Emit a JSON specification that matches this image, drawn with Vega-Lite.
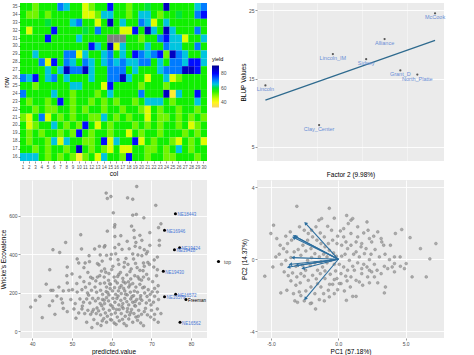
{
"$schema":"https://vega.github.io/schema/vega-lite/v6.json",
"background":"white",
"padding":{"left":0,"top":3,"right":0,"bottom":0},
"bounds":"flush",
"columns":2,
"spacing":{"row":19,"column":50},
"config":{
 "font":"Liberation Sans",
 "view":{"fill":"#EBEBEB","stroke":null},
 "axis":{"domain":false,"gridColor":"#FFFFFF","gridWidth":0.9,"tickColor":"#333333","tickSize":2,"tickWidth":0.5,"labelFontSize":5,"labelColor":"#4D4D4D","labelPadding":1,"titleFontSize":6.5,"titleFontWeight":"normal","titleColor":"#000000","titlePadding":2,"labelOverlap":false,"labelFlush":false},
 "legend":{"labelFontSize":5,"titleFontSize":5.5,"titleFontWeight":"normal","labelColor":"#4D4D4D","titleColor":"#000000"}
},
"resolve":{"scale":{"color":"independent"},"legend":{"color":"independent"}},
"datasets":{
 "heat":[
{"row":35,"col":1,"yield":57},{"row":35,"col":2,"yield":57},{"row":35,"col":3,"yield":51},{"row":35,"col":4,"yield":57},{"row":35,"col":5,"yield":57},{"row":35,"col":6,"yield":57},{"row":35,"col":7,"yield":71},{"row":35,"col":8,"yield":65},{"row":35,"col":9,"yield":57},{"row":35,"col":10,"yield":57},{"row":35,"col":11,"yield":44},{"row":35,"col":12,"yield":51},{"row":35,"col":13,"yield":57},{"row":35,"col":14,"yield":57},{"row":35,"col":15,"yield":79},{"row":35,"col":16,"yield":57},{"row":35,"col":17,"yield":57},{"row":35,"col":18,"yield":51},{"row":35,"col":19,"yield":57},{"row":35,"col":20,"yield":57},{"row":35,"col":21,"yield":60},{"row":35,"col":22,"yield":57},{"row":35,"col":23,"yield":57},{"row":35,"col":24,"yield":86},{"row":35,"col":25,"yield":57},{"row":35,"col":26,"yield":57},{"row":35,"col":27,"yield":57},{"row":35,"col":28,"yield":57},{"row":35,"col":29,"yield":65},{"row":35,"col":30,"yield":71},
{"row":34,"col":1,"yield":57},{"row":34,"col":2,"yield":51},{"row":34,"col":3,"yield":51},{"row":34,"col":4,"yield":57},{"row":34,"col":5,"yield":51},{"row":34,"col":6,"yield":57},{"row":34,"col":7,"yield":57},{"row":34,"col":8,"yield":57},{"row":34,"col":9,"yield":57},{"row":34,"col":10,"yield":57},{"row":34,"col":11,"yield":44},{"row":34,"col":12,"yield":44},{"row":34,"col":13,"yield":51},{"row":34,"col":14,"yield":65},{"row":34,"col":15,"yield":65},{"row":34,"col":16,"yield":57},{"row":34,"col":17,"yield":57},{"row":34,"col":18,"yield":51},{"row":34,"col":19,"yield":57},{"row":34,"col":20,"yield":65},{"row":34,"col":21,"yield":65},{"row":34,"col":22,"yield":57},{"row":34,"col":23,"yield":51},{"row":34,"col":24,"yield":57},{"row":34,"col":25,"yield":57},{"row":34,"col":26,"yield":60},{"row":34,"col":27,"yield":57},{"row":34,"col":28,"yield":57},{"row":34,"col":29,"yield":71},{"row":34,"col":30,"yield":79},
{"row":33,"col":1,"yield":57},{"row":33,"col":2,"yield":57},{"row":33,"col":3,"yield":57},{"row":33,"col":4,"yield":57},{"row":33,"col":5,"yield":60},{"row":33,"col":6,"yield":57},{"row":33,"col":7,"yield":57},{"row":33,"col":8,"yield":57},{"row":33,"col":9,"yield":65},{"row":33,"col":10,"yield":71},{"row":33,"col":11,"yield":57},{"row":33,"col":12,"yield":57},{"row":33,"col":13,"yield":44},{"row":33,"col":14,"yield":57},{"row":33,"col":15,"yield":86},{"row":33,"col":16,"yield":57},{"row":33,"col":17,"yield":65},{"row":33,"col":18,"yield":57},{"row":33,"col":19,"yield":57},{"row":33,"col":20,"yield":71},{"row":33,"col":21,"yield":65},{"row":33,"col":22,"yield":44},{"row":33,"col":23,"yield":57},{"row":33,"col":24,"yield":65},{"row":33,"col":25,"yield":57},{"row":33,"col":26,"yield":57},{"row":33,"col":27,"yield":57},{"row":33,"col":28,"yield":57},{"row":33,"col":29,"yield":57},{"row":33,"col":30,"yield":57},
{"row":32,"col":1,"yield":57},{"row":32,"col":2,"yield":44},{"row":32,"col":3,"yield":57},{"row":32,"col":4,"yield":57},{"row":32,"col":5,"yield":57},{"row":32,"col":6,"yield":79},{"row":32,"col":7,"yield":57},{"row":32,"col":8,"yield":57},{"row":32,"col":9,"yield":57},{"row":32,"col":10,"yield":57},{"row":32,"col":11,"yield":60},{"row":32,"col":12,"yield":57},{"row":32,"col":13,"yield":71},{"row":32,"col":14,"yield":57},{"row":32,"col":15,"yield":57},{"row":32,"col":16,"yield":57},{"row":32,"col":17,"yield":44},{"row":32,"col":18,"yield":44},{"row":32,"col":19,"yield":79},{"row":32,"col":20,"yield":57},{"row":32,"col":21,"yield":86},{"row":32,"col":22,"yield":65},{"row":32,"col":23,"yield":57},{"row":32,"col":24,"yield":86},{"row":32,"col":25,"yield":65},{"row":32,"col":26,"yield":57},{"row":32,"col":27,"yield":57},{"row":32,"col":28,"yield":57},{"row":32,"col":29,"yield":71},{"row":32,"col":30,"yield":57},
{"row":31,"col":1,"yield":57},{"row":31,"col":2,"yield":57},{"row":31,"col":3,"yield":57},{"row":31,"col":4,"yield":57},{"row":31,"col":5,"yield":79},{"row":31,"col":6,"yield":57},{"row":31,"col":7,"yield":57},{"row":31,"col":8,"yield":57},{"row":31,"col":9,"yield":57},{"row":31,"col":10,"yield":65},{"row":31,"col":11,"yield":57},{"row":31,"col":12,"yield":57},{"row":31,"col":13,"yield":57},{"row":31,"col":14,"yield":57},{"row":31,"col":15,"yield":null},{"row":31,"col":16,"yield":null},{"row":31,"col":17,"yield":null},{"row":31,"col":18,"yield":57},{"row":31,"col":19,"yield":57},{"row":31,"col":20,"yield":51},{"row":31,"col":21,"yield":57},{"row":31,"col":22,"yield":57},{"row":31,"col":23,"yield":71},{"row":31,"col":24,"yield":79},{"row":31,"col":25,"yield":65},{"row":31,"col":26,"yield":65},{"row":31,"col":27,"yield":44},{"row":31,"col":28,"yield":57},{"row":31,"col":29,"yield":57},{"row":31,"col":30,"yield":65},
{"row":30,"col":1,"yield":57},{"row":30,"col":2,"yield":57},{"row":30,"col":3,"yield":57},{"row":30,"col":4,"yield":57},{"row":30,"col":5,"yield":57},{"row":30,"col":6,"yield":57},{"row":30,"col":7,"yield":57},{"row":30,"col":8,"yield":57},{"row":30,"col":9,"yield":57},{"row":30,"col":10,"yield":57},{"row":30,"col":11,"yield":57},{"row":30,"col":12,"yield":79},{"row":30,"col":13,"yield":65},{"row":30,"col":14,"yield":57},{"row":30,"col":15,"yield":86},{"row":30,"col":16,"yield":44},{"row":30,"col":17,"yield":65},{"row":30,"col":18,"yield":57},{"row":30,"col":19,"yield":57},{"row":30,"col":20,"yield":57},{"row":30,"col":21,"yield":65},{"row":30,"col":22,"yield":57},{"row":30,"col":23,"yield":57},{"row":30,"col":24,"yield":71},{"row":30,"col":25,"yield":65},{"row":30,"col":26,"yield":65},{"row":30,"col":27,"yield":57},{"row":30,"col":28,"yield":57},{"row":30,"col":29,"yield":71},{"row":30,"col":30,"yield":57},
{"row":29,"col":1,"yield":57},{"row":29,"col":2,"yield":57},{"row":29,"col":3,"yield":65},{"row":29,"col":4,"yield":57},{"row":29,"col":5,"yield":57},{"row":29,"col":6,"yield":57},{"row":29,"col":7,"yield":57},{"row":29,"col":8,"yield":71},{"row":29,"col":9,"yield":71},{"row":29,"col":10,"yield":44},{"row":29,"col":11,"yield":65},{"row":29,"col":12,"yield":57},{"row":29,"col":13,"yield":57},{"row":29,"col":14,"yield":65},{"row":29,"col":15,"yield":71},{"row":29,"col":16,"yield":57},{"row":29,"col":17,"yield":65},{"row":29,"col":18,"yield":57},{"row":29,"col":19,"yield":79},{"row":29,"col":20,"yield":71},{"row":29,"col":21,"yield":65},{"row":29,"col":22,"yield":71},{"row":29,"col":23,"yield":79},{"row":29,"col":24,"yield":51},{"row":29,"col":25,"yield":86},{"row":29,"col":26,"yield":71},{"row":29,"col":27,"yield":65},{"row":29,"col":28,"yield":57},{"row":29,"col":29,"yield":57},{"row":29,"col":30,"yield":65},
{"row":28,"col":1,"yield":57},{"row":28,"col":2,"yield":57},{"row":28,"col":3,"yield":57},{"row":28,"col":4,"yield":71},{"row":28,"col":5,"yield":44},{"row":28,"col":6,"yield":79},{"row":28,"col":7,"yield":57},{"row":28,"col":8,"yield":71},{"row":28,"col":9,"yield":65},{"row":28,"col":10,"yield":57},{"row":28,"col":11,"yield":71},{"row":28,"col":12,"yield":65},{"row":28,"col":13,"yield":57},{"row":28,"col":14,"yield":65},{"row":28,"col":15,"yield":71},{"row":28,"col":16,"yield":65},{"row":28,"col":17,"yield":71},{"row":28,"col":18,"yield":65},{"row":28,"col":19,"yield":65},{"row":28,"col":20,"yield":71},{"row":28,"col":21,"yield":71},{"row":28,"col":22,"yield":57},{"row":28,"col":23,"yield":65},{"row":28,"col":24,"yield":57},{"row":28,"col":25,"yield":71},{"row":28,"col":26,"yield":71},{"row":28,"col":27,"yield":65},{"row":28,"col":28,"yield":79},{"row":28,"col":29,"yield":79},{"row":28,"col":30,"yield":65},
{"row":27,"col":1,"yield":57},{"row":27,"col":2,"yield":57},{"row":27,"col":3,"yield":57},{"row":27,"col":4,"yield":57},{"row":27,"col":5,"yield":65},{"row":27,"col":6,"yield":57},{"row":27,"col":7,"yield":65},{"row":27,"col":8,"yield":86},{"row":27,"col":9,"yield":71},{"row":27,"col":10,"yield":71},{"row":27,"col":11,"yield":86},{"row":27,"col":12,"yield":65},{"row":27,"col":13,"yield":57},{"row":27,"col":14,"yield":57},{"row":27,"col":15,"yield":71},{"row":27,"col":16,"yield":71},{"row":27,"col":17,"yield":71},{"row":27,"col":18,"yield":57},{"row":27,"col":19,"yield":65},{"row":27,"col":20,"yield":57},{"row":27,"col":21,"yield":57},{"row":27,"col":22,"yield":57},{"row":27,"col":23,"yield":65},{"row":27,"col":24,"yield":71},{"row":27,"col":25,"yield":71},{"row":27,"col":26,"yield":71},{"row":27,"col":27,"yield":86},{"row":27,"col":28,"yield":86},{"row":27,"col":29,"yield":79},{"row":27,"col":30,"yield":57},
{"row":26,"col":1,"yield":71},{"row":26,"col":2,"yield":65},{"row":26,"col":3,"yield":79},{"row":26,"col":4,"yield":57},{"row":26,"col":5,"yield":65},{"row":26,"col":6,"yield":71},{"row":26,"col":7,"yield":57},{"row":26,"col":8,"yield":65},{"row":26,"col":9,"yield":57},{"row":26,"col":10,"yield":57},{"row":26,"col":11,"yield":57},{"row":26,"col":12,"yield":65},{"row":26,"col":13,"yield":57},{"row":26,"col":14,"yield":57},{"row":26,"col":15,"yield":71},{"row":26,"col":16,"yield":71},{"row":26,"col":17,"yield":86},{"row":26,"col":18,"yield":65},{"row":26,"col":19,"yield":57},{"row":26,"col":20,"yield":57},{"row":26,"col":21,"yield":44},{"row":26,"col":22,"yield":57},{"row":26,"col":23,"yield":57},{"row":26,"col":24,"yield":65},{"row":26,"col":25,"yield":44},{"row":26,"col":26,"yield":51},{"row":26,"col":27,"yield":57},{"row":26,"col":28,"yield":57},{"row":26,"col":29,"yield":57},{"row":26,"col":30,"yield":57},
{"row":25,"col":1,"yield":57},{"row":25,"col":2,"yield":57},{"row":25,"col":3,"yield":51},{"row":25,"col":4,"yield":57},{"row":25,"col":5,"yield":57},{"row":25,"col":6,"yield":57},{"row":25,"col":7,"yield":57},{"row":25,"col":8,"yield":57},{"row":25,"col":9,"yield":65},{"row":25,"col":10,"yield":65},{"row":25,"col":11,"yield":57},{"row":25,"col":12,"yield":57},{"row":25,"col":13,"yield":57},{"row":25,"col":14,"yield":44},{"row":25,"col":15,"yield":79},{"row":25,"col":16,"yield":57},{"row":25,"col":17,"yield":57},{"row":25,"col":18,"yield":57},{"row":25,"col":19,"yield":57},{"row":25,"col":20,"yield":51},{"row":25,"col":21,"yield":57},{"row":25,"col":22,"yield":57},{"row":25,"col":23,"yield":57},{"row":25,"col":24,"yield":51},{"row":25,"col":25,"yield":57},{"row":25,"col":26,"yield":57},{"row":25,"col":27,"yield":57},{"row":25,"col":28,"yield":57},{"row":25,"col":29,"yield":57},{"row":25,"col":30,"yield":57},
{"row":24,"col":1,"yield":71},{"row":24,"col":2,"yield":57},{"row":24,"col":3,"yield":57},{"row":24,"col":4,"yield":57},{"row":24,"col":5,"yield":57},{"row":24,"col":6,"yield":65},{"row":24,"col":7,"yield":57},{"row":24,"col":8,"yield":57},{"row":24,"col":9,"yield":51},{"row":24,"col":10,"yield":57},{"row":24,"col":11,"yield":57},{"row":24,"col":12,"yield":57},{"row":24,"col":13,"yield":51},{"row":24,"col":14,"yield":57},{"row":24,"col":15,"yield":65},{"row":24,"col":16,"yield":57},{"row":24,"col":17,"yield":57},{"row":24,"col":18,"yield":57},{"row":24,"col":19,"yield":57},{"row":24,"col":20,"yield":71},{"row":24,"col":21,"yield":57},{"row":24,"col":22,"yield":57},{"row":24,"col":23,"yield":57},{"row":24,"col":24,"yield":86},{"row":24,"col":25,"yield":38},{"row":24,"col":26,"yield":65},{"row":24,"col":27,"yield":57},{"row":24,"col":28,"yield":57},{"row":24,"col":29,"yield":79},{"row":24,"col":30,"yield":57},
{"row":23,"col":1,"yield":57},{"row":23,"col":2,"yield":51},{"row":23,"col":3,"yield":57},{"row":23,"col":4,"yield":57},{"row":23,"col":5,"yield":51},{"row":23,"col":6,"yield":57},{"row":23,"col":7,"yield":79},{"row":23,"col":8,"yield":57},{"row":23,"col":9,"yield":51},{"row":23,"col":10,"yield":57},{"row":23,"col":11,"yield":57},{"row":23,"col":12,"yield":51},{"row":23,"col":13,"yield":57},{"row":23,"col":14,"yield":51},{"row":23,"col":15,"yield":57},{"row":23,"col":16,"yield":51},{"row":23,"col":17,"yield":57},{"row":23,"col":18,"yield":57},{"row":23,"col":19,"yield":51},{"row":23,"col":20,"yield":57},{"row":23,"col":21,"yield":65},{"row":23,"col":22,"yield":65},{"row":23,"col":23,"yield":65},{"row":23,"col":24,"yield":57},{"row":23,"col":25,"yield":51},{"row":23,"col":26,"yield":57},{"row":23,"col":27,"yield":57},{"row":23,"col":28,"yield":57},{"row":23,"col":29,"yield":65},{"row":23,"col":30,"yield":57},
{"row":22,"col":1,"yield":57},{"row":22,"col":2,"yield":57},{"row":22,"col":3,"yield":51},{"row":22,"col":4,"yield":57},{"row":22,"col":5,"yield":51},{"row":22,"col":6,"yield":51},{"row":22,"col":7,"yield":57},{"row":22,"col":8,"yield":57},{"row":22,"col":9,"yield":51},{"row":22,"col":10,"yield":57},{"row":22,"col":11,"yield":51},{"row":22,"col":12,"yield":57},{"row":22,"col":13,"yield":57},{"row":22,"col":14,"yield":51},{"row":22,"col":15,"yield":57},{"row":22,"col":16,"yield":57},{"row":22,"col":17,"yield":51},{"row":22,"col":18,"yield":57},{"row":22,"col":19,"yield":57},{"row":22,"col":20,"yield":51},{"row":22,"col":21,"yield":44},{"row":22,"col":22,"yield":57},{"row":22,"col":23,"yield":51},{"row":22,"col":24,"yield":57},{"row":22,"col":25,"yield":57},{"row":22,"col":26,"yield":51},{"row":22,"col":27,"yield":57},{"row":22,"col":28,"yield":57},{"row":22,"col":29,"yield":51},{"row":22,"col":30,"yield":57},
{"row":21,"col":1,"yield":51},{"row":21,"col":2,"yield":44},{"row":21,"col":3,"yield":57},{"row":21,"col":4,"yield":71},{"row":21,"col":5,"yield":44},{"row":21,"col":6,"yield":57},{"row":21,"col":7,"yield":51},{"row":21,"col":8,"yield":57},{"row":21,"col":9,"yield":51},{"row":21,"col":10,"yield":57},{"row":21,"col":11,"yield":57},{"row":21,"col":12,"yield":51},{"row":21,"col":13,"yield":51},{"row":21,"col":14,"yield":65},{"row":21,"col":15,"yield":57},{"row":21,"col":16,"yield":51},{"row":21,"col":17,"yield":57},{"row":21,"col":18,"yield":51},{"row":21,"col":19,"yield":57},{"row":21,"col":20,"yield":57},{"row":21,"col":21,"yield":44},{"row":21,"col":22,"yield":57},{"row":21,"col":23,"yield":51},{"row":21,"col":24,"yield":51},{"row":21,"col":25,"yield":57},{"row":21,"col":26,"yield":51},{"row":21,"col":27,"yield":57},{"row":21,"col":28,"yield":51},{"row":21,"col":29,"yield":57},{"row":21,"col":30,"yield":51},
{"row":20,"col":1,"yield":57},{"row":20,"col":2,"yield":44},{"row":20,"col":3,"yield":51},{"row":20,"col":4,"yield":57},{"row":20,"col":5,"yield":57},{"row":20,"col":6,"yield":65},{"row":20,"col":7,"yield":57},{"row":20,"col":8,"yield":51},{"row":20,"col":9,"yield":57},{"row":20,"col":10,"yield":51},{"row":20,"col":11,"yield":79},{"row":20,"col":12,"yield":57},{"row":20,"col":13,"yield":44},{"row":20,"col":14,"yield":57},{"row":20,"col":15,"yield":51},{"row":20,"col":16,"yield":57},{"row":20,"col":17,"yield":57},{"row":20,"col":18,"yield":57},{"row":20,"col":19,"yield":51},{"row":20,"col":20,"yield":57},{"row":20,"col":21,"yield":51},{"row":20,"col":22,"yield":57},{"row":20,"col":23,"yield":51},{"row":20,"col":24,"yield":57},{"row":20,"col":25,"yield":57},{"row":20,"col":26,"yield":51},{"row":20,"col":27,"yield":57},{"row":20,"col":28,"yield":44},{"row":20,"col":29,"yield":51},{"row":20,"col":30,"yield":57},
{"row":19,"col":1,"yield":57},{"row":19,"col":2,"yield":51},{"row":19,"col":3,"yield":57},{"row":19,"col":4,"yield":51},{"row":19,"col":5,"yield":57},{"row":19,"col":6,"yield":57},{"row":19,"col":7,"yield":51},{"row":19,"col":8,"yield":57},{"row":19,"col":9,"yield":51},{"row":19,"col":10,"yield":79},{"row":19,"col":11,"yield":57},{"row":19,"col":12,"yield":51},{"row":19,"col":13,"yield":57},{"row":19,"col":14,"yield":57},{"row":19,"col":15,"yield":51},{"row":19,"col":16,"yield":57},{"row":19,"col":17,"yield":57},{"row":19,"col":18,"yield":44},{"row":19,"col":19,"yield":57},{"row":19,"col":20,"yield":51},{"row":19,"col":21,"yield":57},{"row":19,"col":22,"yield":57},{"row":19,"col":23,"yield":51},{"row":19,"col":24,"yield":57},{"row":19,"col":25,"yield":57},{"row":19,"col":26,"yield":57},{"row":19,"col":27,"yield":51},{"row":19,"col":28,"yield":57},{"row":19,"col":29,"yield":51},{"row":19,"col":30,"yield":57},
{"row":18,"col":1,"yield":57},{"row":18,"col":2,"yield":51},{"row":18,"col":3,"yield":57},{"row":18,"col":4,"yield":57},{"row":18,"col":5,"yield":51},{"row":18,"col":6,"yield":65},{"row":18,"col":7,"yield":44},{"row":18,"col":8,"yield":65},{"row":18,"col":9,"yield":57},{"row":18,"col":10,"yield":57},{"row":18,"col":11,"yield":51},{"row":18,"col":12,"yield":51},{"row":18,"col":13,"yield":57},{"row":18,"col":14,"yield":79},{"row":18,"col":15,"yield":44},{"row":18,"col":16,"yield":65},{"row":18,"col":17,"yield":57},{"row":18,"col":18,"yield":57},{"row":18,"col":19,"yield":79},{"row":18,"col":20,"yield":44},{"row":18,"col":21,"yield":57},{"row":18,"col":22,"yield":51},{"row":18,"col":23,"yield":57},{"row":18,"col":24,"yield":57},{"row":18,"col":25,"yield":51},{"row":18,"col":26,"yield":44},{"row":18,"col":27,"yield":57},{"row":18,"col":28,"yield":51},{"row":18,"col":29,"yield":57},{"row":18,"col":30,"yield":44},
{"row":17,"col":1,"yield":57},{"row":17,"col":2,"yield":57},{"row":17,"col":3,"yield":51},{"row":17,"col":4,"yield":57},{"row":17,"col":5,"yield":51},{"row":17,"col":6,"yield":57},{"row":17,"col":7,"yield":57},{"row":17,"col":8,"yield":51},{"row":17,"col":9,"yield":57},{"row":17,"col":10,"yield":86},{"row":17,"col":11,"yield":57},{"row":17,"col":12,"yield":51},{"row":17,"col":13,"yield":57},{"row":17,"col":14,"yield":51},{"row":17,"col":15,"yield":44},{"row":17,"col":16,"yield":57},{"row":17,"col":17,"yield":44},{"row":17,"col":18,"yield":44},{"row":17,"col":19,"yield":57},{"row":17,"col":20,"yield":57},{"row":17,"col":21,"yield":51},{"row":17,"col":22,"yield":51},{"row":17,"col":23,"yield":57},{"row":17,"col":24,"yield":51},{"row":17,"col":25,"yield":57},{"row":17,"col":26,"yield":65},{"row":17,"col":27,"yield":57},{"row":17,"col":28,"yield":51},{"row":17,"col":29,"yield":57},{"row":17,"col":30,"yield":57},
{"row":16,"col":1,"yield":65},{"row":16,"col":2,"yield":65},{"row":16,"col":3,"yield":65},{"row":16,"col":4,"yield":57},{"row":16,"col":5,"yield":51},{"row":16,"col":6,"yield":57},{"row":16,"col":7,"yield":51},{"row":16,"col":8,"yield":57},{"row":16,"col":9,"yield":51},{"row":16,"col":10,"yield":38},{"row":16,"col":11,"yield":51},{"row":16,"col":12,"yield":57},{"row":16,"col":13,"yield":44},{"row":16,"col":14,"yield":65},{"row":16,"col":15,"yield":57},{"row":16,"col":16,"yield":57},{"row":16,"col":17,"yield":51},{"row":16,"col":18,"yield":79},{"row":16,"col":19,"yield":57},{"row":16,"col":20,"yield":57},{"row":16,"col":21,"yield":51},{"row":16,"col":22,"yield":57},{"row":16,"col":23,"yield":57},{"row":16,"col":24,"yield":51},{"row":16,"col":25,"yield":51},{"row":16,"col":26,"yield":57},{"row":16,"col":27,"yield":57},{"row":16,"col":28,"yield":57},{"row":16,"col":29,"yield":51},{"row":16,"col":30,"yield":57}
 ],
 "locs":[
{"factor2":-6.66,"blup":14.0,"location":"Lincoln"},
{"factor2":-2.89,"blup":18.6,"location":"Lincoln_IM"},
{"factor2":-1.03,"blup":17.85,"location":"Sidney"},
{"factor2":0.0,"blup":20.8,"location":"Alliance"},
{"factor2":2.82,"blup":24.56,"location":"McCook"},
{"factor2":0.88,"blup":16.2,"location":"Grant_D"},
{"factor2":1.83,"blup":15.6,"location":"North_Platte"},
{"factor2":-3.66,"blup":8.2,"location":"Clay_Center"}
 ],
 "fit":[{"factor2":-6.66,"blup":11.85},{"factor2":2.82,"blup":20.6}],
 "eco":[
{"predicted":66.3,"ecovalence":753},{"predicted":58.6,"ecovalence":719},{"predicted":58.9,"ecovalence":691},{"predicted":59.8,"ecovalence":701},{"predicted":64.0,"ecovalence":694},{"predicted":65.3,"ecovalence":687},{"predicted":71.1,"ecovalence":655},{"predicted":60.4,"ecovalence":616},{"predicted":65.3,"ecovalence":604},{"predicted":66.2,"ecovalence":608},{"predicted":68.1,"ecovalence":590},{"predicted":72.4,"ecovalence":559},{"predicted":60.8,"ecovalence":554},{"predicted":60.7,"ecovalence":542},{"predicted":65.0,"ecovalence":547},{"predicted":65.6,"ecovalence":525},{"predicted":71.8,"ecovalence":539},{"predicted":58.9,"ecovalence":521},{"predicted":62.3,"ecovalence":497},{"predicted":60.8,"ecovalence":493},{"predicted":52.2,"ecovalence":502},{"predicted":67.1,"ecovalence":499},{"predicted":69.6,"ecovalence":513},{"predicted":65.7,"ecovalence":487},{"predicted":48.4,"ecovalence":462},{"predicted":66.1,"ecovalence":462},{"predicted":67.6,"ecovalence":473},{"predicted":63.9,"ecovalence":468},{"predicted":69.6,"ecovalence":447},{"predicted":72.0,"ecovalence":447},{"predicted":72.0,"ecovalence":473},{"predicted":58.3,"ecovalence":445},{"predicted":56.9,"ecovalence":442},{"predicted":58.1,"ecovalence":438},{"predicted":61.8,"ecovalence":452},{"predicted":60.8,"ecovalence":435},{"predicted":62.6,"ecovalence":426},{"predicted":64.4,"ecovalence":429},{"predicted":65.9,"ecovalence":442},{"predicted":67.1,"ecovalence":435},{"predicted":68.2,"ecovalence":424},{"predicted":69.0,"ecovalence":414},{"predicted":45.2,"ecovalence":424},{"predicted":46.9,"ecovalence":410},{"predicted":52.4,"ecovalence":428},{"predicted":55.7,"ecovalence":428},{"predicted":54.3,"ecovalence":393},{"predicted":57.1,"ecovalence":397},{"predicted":58.7,"ecovalence":395},{"predicted":59.9,"ecovalence":400},{"predicted":61.0,"ecovalence":403},{"predicted":65.3,"ecovalence":402},{"predicted":66.6,"ecovalence":397},{"predicted":67.6,"ecovalence":393},{"predicted":68.7,"ecovalence":403},{"predicted":71.5,"ecovalence":386},{"predicted":70.7,"ecovalence":371},{"predicted":69.1,"ecovalence":358},{"predicted":68.0,"ecovalence":355},{"predicted":65.5,"ecovalence":376},{"predicted":63.6,"ecovalence":379},{"predicted":61.6,"ecovalence":372},{"predicted":59.7,"ecovalence":376},{"predicted":57.6,"ecovalence":365},{"predicted":54.4,"ecovalence":362},{"predicted":51.7,"ecovalence":355},{"predicted":51.3,"ecovalence":376},{"predicted":44.4,"ecovalence":320},{"predicted":48.8,"ecovalence":334},{"predicted":53.0,"ecovalence":331},{"predicted":56.4,"ecovalence":352},{"predicted":57.4,"ecovalence":313},{"predicted":58.2,"ecovalence":324},{"predicted":59.3,"ecovalence":300},{"predicted":60.3,"ecovalence":338},{"predicted":61.8,"ecovalence":348},{"predicted":63.1,"ecovalence":334},{"predicted":64.1,"ecovalence":348},{"predicted":64.9,"ecovalence":324},{"predicted":66.4,"ecovalence":331},{"predicted":67.1,"ecovalence":317},{"predicted":68.2,"ecovalence":338},{"predicted":69.5,"ecovalence":348},{"predicted":70.6,"ecovalence":334},{"predicted":71.5,"ecovalence":320},{"predicted":68.8,"ecovalence":296},{"predicted":48.7,"ecovalence":289},{"predicted":52.0,"ecovalence":282},{"predicted":54.0,"ecovalence":306},{"predicted":55.2,"ecovalence":275},{"predicted":56.4,"ecovalence":282},{"predicted":58.1,"ecovalence":282},{"predicted":59.2,"ecovalence":265},{"predicted":60.6,"ecovalence":282},{"predicted":61.8,"ecovalence":296},{"predicted":62.8,"ecovalence":275},{"predicted":63.8,"ecovalence":293},{"predicted":64.8,"ecovalence":272},{"predicted":65.8,"ecovalence":289},{"predicted":66.9,"ecovalence":272},{"predicted":68.0,"ecovalence":282},{"predicted":69.3,"ecovalence":272},{"predicted":70.3,"ecovalence":258},{"predicted":71.3,"ecovalence":289},{"predicted":71.7,"ecovalence":237},{"predicted":48.8,"ecovalence":251},{"predicted":51.2,"ecovalence":248},{"predicted":53.0,"ecovalence":258},{"predicted":54.4,"ecovalence":248},{"predicted":55.8,"ecovalence":230},{"predicted":57.1,"ecovalence":248},{"predicted":58.2,"ecovalence":251},{"predicted":58.7,"ecovalence":230},{"predicted":59.7,"ecovalence":244},{"predicted":60.7,"ecovalence":227},{"predicted":61.4,"ecovalence":251},{"predicted":62.4,"ecovalence":237},{"predicted":63.4,"ecovalence":251},{"predicted":64.3,"ecovalence":230},{"predicted":65.3,"ecovalence":248},{"predicted":66.1,"ecovalence":230},{"predicted":67.1,"ecovalence":244},{"predicted":68.2,"ecovalence":230},{"predicted":69.2,"ecovalence":216},{"predicted":70.8,"ecovalence":223},{"predicted":46.7,"ecovalence":230},{"predicted":44.7,"ecovalence":213},{"predicted":45.2,"ecovalence":213},{"predicted":47.8,"ecovalence":210},{"predicted":50.1,"ecovalence":216},{"predicted":51.3,"ecovalence":204},{"predicted":52.5,"ecovalence":216},{"predicted":53.9,"ecovalence":199},{"predicted":54.9,"ecovalence":213},{"predicted":56.2,"ecovalence":203},{"predicted":57.2,"ecovalence":213},{"predicted":57.7,"ecovalence":192},{"predicted":58.6,"ecovalence":206},{"predicted":59.3,"ecovalence":189},{"predicted":60.2,"ecovalence":210},{"predicted":61.0,"ecovalence":192},{"predicted":61.7,"ecovalence":210},{"predicted":62.4,"ecovalence":196},{"predicted":63.3,"ecovalence":210},{"predicted":63.9,"ecovalence":189},{"predicted":64.7,"ecovalence":203},{"predicted":65.5,"ecovalence":185},{"predicted":66.5,"ecovalence":203},{"predicted":67.3,"ecovalence":185},{"predicted":68.3,"ecovalence":199},{"predicted":69.7,"ecovalence":192},{"predicted":70.8,"ecovalence":182},{"predicted":71.5,"ecovalence":204},{"predicted":41.9,"ecovalence":182},{"predicted":40.8,"ecovalence":161},{"predicted":39.6,"ecovalence":126},{"predicted":44.3,"ecovalence":133},{"predicted":45.1,"ecovalence":158},{"predicted":47.3,"ecovalence":168},{"predicted":47.6,"ecovalence":147},{"predicted":49.7,"ecovalence":165},{"predicted":50.8,"ecovalence":144},{"predicted":52.0,"ecovalence":168},{"predicted":52.9,"ecovalence":151},{"predicted":53.7,"ecovalence":168},{"predicted":54.5,"ecovalence":147},{"predicted":55.2,"ecovalence":171},{"predicted":55.9,"ecovalence":158},{"predicted":56.6,"ecovalence":171},{"predicted":57.1,"ecovalence":144},{"predicted":57.7,"ecovalence":165},{"predicted":58.2,"ecovalence":144},{"predicted":58.7,"ecovalence":175},{"predicted":59.2,"ecovalence":158},{"predicted":59.7,"ecovalence":137},{"predicted":60.3,"ecovalence":171},{"predicted":60.8,"ecovalence":151},{"predicted":61.3,"ecovalence":171},{"predicted":61.8,"ecovalence":137},{"predicted":62.3,"ecovalence":161},{"predicted":62.8,"ecovalence":144},{"predicted":63.3,"ecovalence":171},{"predicted":63.8,"ecovalence":154},{"predicted":64.3,"ecovalence":137},{"predicted":64.8,"ecovalence":168},{"predicted":65.3,"ecovalence":151},{"predicted":65.8,"ecovalence":133},{"predicted":66.3,"ecovalence":165},{"predicted":67.0,"ecovalence":144},{"predicted":67.6,"ecovalence":161},{"predicted":68.7,"ecovalence":147},{"predicted":69.5,"ecovalence":161},{"predicted":70.5,"ecovalence":151},{"predicted":71.8,"ecovalence":165},{"predicted":47.8,"ecovalence":119},{"predicted":48.8,"ecovalence":102},{"predicted":50.5,"ecovalence":116},{"predicted":51.7,"ecovalence":95},{"predicted":52.5,"ecovalence":116},{"predicted":53.2,"ecovalence":92},{"predicted":54.0,"ecovalence":109},{"predicted":54.7,"ecovalence":88},{"predicted":55.4,"ecovalence":113},{"predicted":56.1,"ecovalence":92},{"predicted":56.7,"ecovalence":106},{"predicted":57.2,"ecovalence":85},{"predicted":57.9,"ecovalence":116},{"predicted":58.4,"ecovalence":95},{"predicted":58.9,"ecovalence":78},{"predicted":59.4,"ecovalence":109},{"predicted":59.9,"ecovalence":88},{"predicted":60.4,"ecovalence":119},{"predicted":60.9,"ecovalence":95},{"predicted":61.4,"ecovalence":74},{"predicted":61.9,"ecovalence":113},{"predicted":62.4,"ecovalence":92},{"predicted":62.9,"ecovalence":119},{"predicted":63.4,"ecovalence":78},{"predicted":63.9,"ecovalence":102},{"predicted":64.5,"ecovalence":85},{"predicted":65.0,"ecovalence":113},{"predicted":65.6,"ecovalence":92},{"predicted":66.1,"ecovalence":74},{"predicted":66.8,"ecovalence":109},{"predicted":67.5,"ecovalence":88},{"predicted":68.2,"ecovalence":102},{"predicted":69.0,"ecovalence":85},{"predicted":70.0,"ecovalence":109},{"predicted":70.8,"ecovalence":88},{"predicted":71.5,"ecovalence":116},{"predicted":72.4,"ecovalence":92},{"predicted":42.5,"ecovalence":71},{"predicted":51.0,"ecovalence":68},{"predicted":53.7,"ecovalence":47},{"predicted":55.5,"ecovalence":61},{"predicted":56.4,"ecovalence":40},{"predicted":55.0,"ecovalence":19},{"predicted":57.6,"ecovalence":54},{"predicted":58.7,"ecovalence":47},{"predicted":59.7,"ecovalence":61},{"predicted":60.6,"ecovalence":43},{"predicted":61.9,"ecovalence":54},{"predicted":63.1,"ecovalence":40},{"predicted":64.3,"ecovalence":64},{"predicted":65.3,"ecovalence":47},{"predicted":66.5,"ecovalence":57},{"predicted":67.3,"ecovalence":43},{"predicted":68.0,"ecovalence":29},{"predicted":70.7,"ecovalence":61},{"predicted":71.7,"ecovalence":47},{"predicted":69.8,"ecovalence":74},
{"predicted":56.3,"ecovalence":121},{"predicted":57.5,"ecovalence":133},{"predicted":58.1,"ecovalence":162},{"predicted":59.0,"ecovalence":201},{"predicted":59.6,"ecovalence":222},{"predicted":60.1,"ecovalence":131},{"predicted":60.9,"ecovalence":262},{"predicted":61.2,"ecovalence":113},{"predicted":61.6,"ecovalence":183},{"predicted":62.0,"ecovalence":227},{"predicted":62.6,"ecovalence":128},{"predicted":62.9,"ecovalence":258},{"predicted":63.5,"ecovalence":193},{"predicted":64.0,"ecovalence":118},{"predicted":64.6,"ecovalence":241},{"predicted":65.1,"ecovalence":180},{"predicted":65.7,"ecovalence":209},{"predicted":66.0,"ecovalence":131},{"predicted":66.6,"ecovalence":283},{"predicted":67.2,"ecovalence":171},{"predicted":67.8,"ecovalence":226},{"predicted":68.5,"ecovalence":119},{"predicted":55.1,"ecovalence":101},{"predicted":54.2,"ecovalence":188},{"predicted":53.4,"ecovalence":229},{"predicted":52.6,"ecovalence":131},{"predicted":56.0,"ecovalence":262},{"predicted":57.0,"ecovalence":289},{"predicted":58.5,"ecovalence":307},{"predicted":60.0,"ecovalence":321},{"predicted":62.2,"ecovalence":306},{"predicted":63.2,"ecovalence":358},{"predicted":64.6,"ecovalence":310},{"predicted":66.0,"ecovalence":353},{"predicted":67.5,"ecovalence":266},{"predicted":68.9,"ecovalence":181},{"predicted":69.9,"ecovalence":137},{"predicted":70.2,"ecovalence":205},{"predicted":58.0,"ecovalence":66},{"predicted":60.0,"ecovalence":58},{"predicted":62.7,"ecovalence":62},{"predicted":64.8,"ecovalence":98},{"predicted":66.7,"ecovalence":78},{"predicted":61.1,"ecovalence":36},{"predicted":63.7,"ecovalence":29},{"predicted":57.3,"ecovalence":30},{"predicted":59.5,"ecovalence":247},{"predicted":61.5,"ecovalence":285},{"predicted":63.0,"ecovalence":223},{"predicted":64.2,"ecovalence":257},{"predicted":65.9,"ecovalence":154},{"predicted":67.9,"ecovalence":315},{"predicted":56.8,"ecovalence":345},{"predicted":54.7,"ecovalence":281},{"predicted":53.3,"ecovalence":355},{"predicted":50.0,"ecovalence":298},{"predicted":49.2,"ecovalence":213},{"predicted":46.2,"ecovalence":183},{"predicted":43.5,"ecovalence":245},{"predicted":45.7,"ecovalence":88}
 ],
 "top":[
{"predicted":76.05,"ecovalence":612,"label":"NE18443"},
{"predicted":73.3,"ecovalence":525,"label":"NE16946"},
{"predicted":77.1,"ecovalence":435,"label":"NE19424"},
{"predicted":75.8,"ecovalence":424,"label":"NE19428"},
{"predicted":73.0,"ecovalence":312,"label":"NE19430"},
{"predicted":76.1,"ecovalence":193,"label":"NE16572"},
{"predicted":73.3,"ecovalence":179,"label":"NE16579"},
{"predicted":78.7,"ecovalence":165,"label":"Freeman"},
{"predicted":77.2,"ecovalence":47,"label":"NE16562"}
 ],
 "pca":[
{"PC1":-3.08,"PC2":2.94},{"PC1":-0.67,"PC2":2.83},{"PC1":-4.81,"PC2":1.89},{"PC1":-5.01,"PC2":1.43},{"PC1":-4.57,"PC2":1.15},{"PC1":-5.46,"PC2":-0.94},{"PC1":-4.86,"PC2":-0.43},{"PC1":-4.27,"PC2":-1.87},{"PC1":-3.82,"PC2":-1.72},{"PC1":-3.23,"PC2":-2.31},{"PC1":-3.03,"PC2":-2.39},{"PC1":-1.99,"PC2":-2.43},{"PC1":-2.08,"PC2":-2.46},{"PC1":-1.69,"PC2":-2.76},{"PC1":7.25,"PC2":0.87},{"PC1":6.80,"PC2":0.02},{"PC1":6.53,"PC2":-0.98},{"PC1":6.10,"PC2":0.59},{"PC1":5.48,"PC2":-0.98},{"PC1":5.33,"PC2":1.20},{"PC1":4.71,"PC2":1.65},{"PC1":4.24,"PC2":1.43},{"PC1":5.04,"PC2":-0.24},{"PC1":4.61,"PC2":-0.39},{"PC1":4.17,"PC2":-0.70},{"PC1":4.00,"PC2":-0.43},{"PC1":3.42,"PC2":-1.87},{"PC1":3.50,"PC2":-1.54},{"PC1":2.93,"PC2":-1.31},{"PC1":3.23,"PC2":0.96},{"PC1":3.37,"PC2":0.78},{"PC1":3.18,"PC2":1.15},{"PC1":3.87,"PC2":0.78},{"PC1":2.73,"PC2":0.54},{"PC1":2.13,"PC2":2.07},{"PC1":2.21,"PC2":1.61},{"PC1":1.89,"PC2":1.46},{"PC1":1.44,"PC2":1.24},{"PC1":1.07,"PC2":2.26},{"PC1":0.62,"PC2":2.43},{"PC1":1.44,"PC2":1.80},{"PC1":0.74,"PC2":1.98},{"PC1":-0.30,"PC2":2.28},{"PC1":-1.24,"PC2":2.26},{"PC1":-1.44,"PC2":2.17},{"PC1":-0.79,"PC2":1.83},{"PC1":-0.50,"PC2":1.61},{"PC1":0.15,"PC2":1.57},{"PC1":-0.05,"PC2":1.28},{"PC1":0.40,"PC2":1.24},{"PC1":0.94,"PC2":1.43},{"PC1":1.32,"PC2":0.96},{"PC1":1.74,"PC2":0.87},{"PC1":2.06,"PC2":0.59},{"PC1":2.43,"PC2":0.28},{"PC1":2.31,"PC2":-0.02},{"PC1":2.68,"PC2":-0.28},{"PC1":3.05,"PC2":0.13},{"PC1":3.42,"PC2":-0.39},{"PC1":2.88,"PC2":-0.61},{"PC1":2.31,"PC2":-0.61},{"PC1":1.89,"PC2":-0.28},{"PC1":1.44,"PC2":-0.20},{"PC1":1.14,"PC2":0.28},{"PC1":0.69,"PC2":0.59},{"PC1":0.50,"PC2":0.28},{"PC1":0.82,"PC2":-0.06},{"PC1":1.19,"PC2":-0.61},{"PC1":1.74,"PC2":-0.80},{"PC1":2.18,"PC2":-0.98},{"PC1":1.56,"PC2":-1.26},{"PC1":0.89,"PC2":-1.54},{"PC1":0.45,"PC2":-1.76},{"PC1":1.07,"PC2":-2.06},{"PC1":1.32,"PC2":-2.06},{"PC1":0.60,"PC2":-2.28},{"PC1":0.20,"PC2":-1.35},{"PC1":-0.10,"PC2":-1.07},{"PC1":-0.42,"PC2":-1.39},{"PC1":-0.74,"PC2":-1.72},{"PC1":-1.09,"PC2":-1.91},{"PC1":-1.29,"PC2":-1.54},{"PC1":-1.54,"PC2":-1.35},{"PC1":-0.99,"PC2":-1.07},{"PC1":-0.60,"PC2":-0.83},{"PC1":-0.20,"PC2":-0.65},{"PC1":0.20,"PC2":-0.80},{"PC1":0.55,"PC2":-0.94},{"PC1":0.40,"PC2":-0.43},{"PC1":0.07,"PC2":-0.28},{"PC1":-0.30,"PC2":-0.28},{"PC1":-0.55,"PC2":-0.06},{"PC1":-0.84,"PC2":-0.20},{"PC1":-1.17,"PC2":-0.43},{"PC1":-1.54,"PC2":-0.61},{"PC1":-1.91,"PC2":-0.89},{"PC1":-2.23,"PC2":-1.17},{"PC1":-2.53,"PC2":-0.94},{"PC1":-2.83,"PC2":-1.31},{"PC1":-3.15,"PC2":-1.44},{"PC1":-3.52,"PC2":-1.20},{"PC1":-3.72,"PC2":-0.91},{"PC1":-4.02,"PC2":-0.70},{"PC1":-4.22,"PC2":-0.28},{"PC1":-3.90,"PC2":-0.06},{"PC1":-4.39,"PC2":0.28},{"PC1":-4.07,"PC2":0.59},{"PC1":-3.77,"PC2":0.87},{"PC1":-3.47,"PC2":1.06},{"PC1":-3.90,"PC2":1.28},{"PC1":-3.57,"PC2":1.52},{"PC1":-2.88,"PC2":1.80},{"PC1":-2.53,"PC2":1.61},{"PC1":-2.23,"PC2":1.43},{"PC1":-1.91,"PC2":1.24},{"PC1":-1.59,"PC2":1.06},{"PC1":-1.29,"PC2":0.87},{"PC1":-0.99,"PC2":0.69},{"PC1":-0.67,"PC2":0.50},{"PC1":-0.35,"PC2":0.35},{"PC1":-0.15,"PC2":0.17},{"PC1":0.25,"PC2":0.17},{"PC1":-1.04,"PC2":1.24},{"PC1":-1.34,"PC2":1.46},{"PC1":-1.66,"PC2":1.80},{"PC1":-1.99,"PC2":1.61},{"PC1":-2.28,"PC2":1.06},{"PC1":-2.63,"PC2":0.78},{"PC1":-2.98,"PC2":0.54},{"PC1":-3.28,"PC2":0.41},{"PC1":-2.78,"PC2":0.22},{"PC1":-2.41,"PC2":0.46},{"PC1":-2.03,"PC2":0.59},{"PC1":-1.74,"PC2":0.31},{"PC1":-1.41,"PC2":0.13},{"PC1":-1.09,"PC2":0.28},{"PC1":-0.84,"PC2":0.13},{"PC1":-1.74,"PC2":-0.20},{"PC1":-2.08,"PC2":-0.35},{"PC1":-2.43,"PC2":-0.61},{"PC1":-2.78,"PC2":-0.80},{"PC1":-3.08,"PC2":-0.98},{"PC1":-3.40,"PC2":-0.76},{"PC1":-3.15,"PC2":-0.39},{"PC1":-2.28,"PC2":-0.06},{"PC1":-1.99,"PC2":0.09},{"PC1":-1.34,"PC2":-0.80},{"PC1":-0.99,"PC2":-0.65},{"PC1":-1.64,"PC2":-1.09},{"PC1":-2.03,"PC2":-1.54},{"PC1":-2.41,"PC2":-1.76},{"PC1":-2.78,"PC2":-2.02},{"PC1":-1.74,"PC2":-1.91},{"PC1":-1.41,"PC2":-2.24},{"PC1":-1.04,"PC2":-2.31},{"PC1":-0.67,"PC2":-2.09},{"PC1":-0.30,"PC2":-1.91},{"PC1":-0.05,"PC2":-1.69},{"PC1":0.94,"PC2":-0.98},{"PC1":1.32,"PC2":-1.17},{"PC1":1.81,"PC2":-1.44},{"PC1":2.31,"PC2":-1.31},{"PC1":2.68,"PC2":-0.98},{"PC1":3.18,"PC2":-0.80},{"PC1":3.67,"PC2":-0.52},{"PC1":4.17,"PC2":-0.24},{"PC1":3.80,"PC2":-0.02},{"PC1":3.47,"PC2":0.28},{"PC1":4.17,"PC2":0.13},{"PC1":4.59,"PC2":0.13},{"PC1":4.91,"PC2":-0.52},{"PC1":2.48,"PC2":0.96},{"PC1":2.63,"PC2":1.28},{"PC1":2.93,"PC2":1.52},{"PC1":2.31,"PC2":1.15},{"PC1":1.69,"PC2":0.69},{"PC1":1.32,"PC2":0.41},{"PC1":0.94,"PC2":0.78},{"PC1":0.57,"PC2":0.96},{"PC1":0.25,"PC2":0.78},{"PC1":-0.10,"PC2":0.87},{"PC1":-0.42,"PC2":1.06},{"PC1":-0.74,"PC2":0.87},{"PC1":0.40,"PC2":1.70},{"PC1":0.94,"PC2":2.17},{"PC1":1.94,"PC2":0.31},{"PC1":1.56,"PC2":0.13},{"PC1":2.13,"PC2":-0.43},{"PC1":2.48,"PC2":-0.70},{"PC1":1.74,"PC2":-0.52},{"PC1":1.07,"PC2":-0.39},{"PC1":0.69,"PC2":-0.61},{"PC1":0.65,"PC2":-1.20},{"PC1":0.07,"PC2":-1.35},{"PC1":-0.30,"PC2":-1.13},{"PC1":-0.65,"PC2":-1.39},{"PC1":-1.29,"PC2":-0.15},{"PC1":-3.52,"PC2":0.09},{"PC1":-3.82,"PC2":0.41},{"PC1":-4.32,"PC2":0.78},{"PC1":-4.64,"PC2":0.13},{"PC1":-2.66,"PC2":-0.33},{"PC1":-2.90,"PC2":-1.81},{"PC1":-3.33,"PC2":-1.91},{"PC1":-2.53,"PC2":-2.31}
 ],
 "arrows":[
{"PC1":-2.41,"PC2":1.98},{"PC1":-3.23,"PC2":1.28},{"PC1":-3.28,"PC2":1.19},{"PC1":-3.13,"PC2":1.24},{"PC1":-3.33,"PC2":0.09},{"PC1":-3.65,"PC2":-0.43},{"PC1":-3.52,"PC2":-0.28},{"PC1":-2.58,"PC2":-0.50},{"PC1":-3.03,"PC2":-0.33},{"PC1":-2.43,"PC2":-2.17}
 ]
},
"concat":[
 {
  "width":187,"height":158,
  "data":{"name":"heat"},
  "layer":[
   {"transform":[{"filter":"isValid(datum.yield)"}],
    "mark":{"type":"rect"},
    "encoding":{
     "x":{"field":"col","type":"ordinal","title":"col","scale":{"paddingInner":0,"paddingOuter":0},"axis":{"labelAngle":0,"grid":false,"labelFontSize":4.5}},
     "y":{"field":"row","type":"ordinal","title":"row","sort":"descending","scale":{"paddingInner":0,"paddingOuter":0},"axis":{"grid":false,"labelFontSize":4.5}},
     "color":{"field":"yield","type":"quantitative",
      "scale":{"domain":[33,42,58,66,80,91],"range":["#F9D56B","#FFFF00","#00EE00","#00BFFF","#0000FF","#00008B"],"interpolate":"rgb"},
      "legend":{"title":"yield","orient":"none","legendX":192,"legendY":54,"direction":"vertical","values":[40,60,80],"gradientLength":42,"gradientThickness":7,"gradientStrokeWidth":0,"titlePadding":3,"labelOffset":2}}
    }},
   {"transform":[{"filter":"!isValid(datum.yield)"}],
    "mark":{"type":"rect","color":"#7F7F7F"},
    "encoding":{
     "x":{"field":"col","type":"ordinal"},
     "y":{"field":"row","type":"ordinal","sort":"descending"}
    }}
  ]
 },
 {
  "width":187,"height":158,
  "layer":[
   {"data":{"name":"fit"},
    "mark":{"type":"line","color":"#2E6A8E","strokeWidth":1.2},
    "encoding":{
     "x":{"field":"factor2","type":"quantitative","title":"Factor 2 (9.98%)","scale":{"domain":[-7.13,3.32],"nice":false,"zero":false},
      "axis":{"values":[-6.25,-5,-3.75,-2.5,-1.25,0,1.25,2.5],
       "labelExpr":"indexof([-5,-2.5,0,2.5],datum.value)>=0 ? replace(format(datum.value,'.1f'),'\u2212','-') : ''",
       "gridWidth":{"condition":{"test":"indexof([-5,-2.5,0,2.5],datum.value)<0","value":0.4},"value":0.9},
       "tickOpacity":{"condition":{"test":"indexof([-5,-2.5,0,2.5],datum.value)<0","value":0},"value":1}}},
     "y":{"field":"blup","type":"quantitative","title":"BLUP Values","scale":{"domain":[2.95,26.07],"nice":false,"zero":false},
      "axis":{"values":[5,7.5,10,12.5,15,17.5,20,22.5,25],
       "labelExpr":"datum.value % 5 === 0 ? datum.value : ''",
       "gridWidth":{"condition":{"test":"datum.value % 5 !== 0","value":0.4},"value":0.9},
       "tickOpacity":{"condition":{"test":"datum.value % 5 !== 0","value":0},"value":1}}}
    }},
   {"data":{"name":"locs"},
    "mark":{"type":"point","filled":true,"size":5,"color":"#555555","opacity":1},
    "encoding":{"x":{"field":"factor2","type":"quantitative"},"y":{"field":"blup","type":"quantitative"}}},
   {"data":{"name":"locs"},
    "mark":{"type":"text","baseline":"top","align":"center","dy":2,"fontSize":5.5,"color":"#6A8ED6"},
    "encoding":{"x":{"field":"factor2","type":"quantitative"},"y":{"field":"blup","type":"quantitative"},"text":{"field":"location"}}}
  ]
 },
 {
  "width":187,"height":158,
  "layer":[
   {"data":{"name":"eco"},
    "mark":{"type":"point","filled":true,"size":8,"color":"#9E9E9E","stroke":"#6A6A6A","strokeWidth":0.4,"opacity":0.9},
    "encoding":{
     "x":{"field":"predicted","type":"quantitative","title":"predicted.value","scale":{"domain":[36.9,84],"nice":false,"zero":false},
      "axis":{"values":[40,45,50,55,60,65,70,75,80],
       "labelExpr":"datum.value % 10 === 0 ? datum.value : ''",
       "gridWidth":{"condition":{"test":"datum.value % 10 !== 0","value":0.4},"value":0.9},
       "tickOpacity":{"condition":{"test":"datum.value % 10 !== 0","value":0},"value":1}}},
     "y":{"field":"ecovalence","type":"quantitative","title":"Wricke's Ecovalence","scale":{"domain":[-35,787],"nice":false,"zero":false},
      "axis":{"values":[0,100,200,300,400,500,600,700],
       "labelExpr":"datum.value % 200 === 0 ? datum.value : ''",
       "gridWidth":{"condition":{"test":"datum.value % 200 !== 0","value":0.4},"value":0.9},
       "tickOpacity":{"condition":{"test":"datum.value % 200 !== 0","value":0},"value":1}}}
    }},
   {"data":{"name":"top"},
    "mark":{"type":"point","filled":true,"size":9,"opacity":1},
    "encoding":{
     "x":{"field":"predicted","type":"quantitative"},"y":{"field":"ecovalence","type":"quantitative"},
     "color":{"datum":"top","type":"nominal","scale":{"range":["#000000"]},
      "legend":{"title":null,"orient":"none","legendX":196,"legendY":79,"symbolSize":10,"labelFontSize":5,"labelOffset":3}}
    }},
   {"data":{"name":"top"},
    "mark":{"type":"text","align":"left","baseline":"middle","dx":2,"dy":1.5,"fontSize":4.5},
    "encoding":{
     "x":{"field":"predicted","type":"quantitative"},"y":{"field":"ecovalence","type":"quantitative"},
     "text":{"field":"label"},
     "color":{"condition":{"test":"datum.label === 'Freeman'","value":"#000000"},"value":"#4A78D6"}
    }}
  ]
 },
 {
  "width":187,"height":158,
  "layer":[
   {"data":{"name":"pca"},
    "mark":{"type":"point","filled":true,"size":8,"color":"#A6A6A6","stroke":"#707070","strokeWidth":0.4,"opacity":0.9},
    "encoding":{
     "x":{"field":"PC1","type":"quantitative","title":"PC1 (57.18%)","scale":{"domain":[-6.04,7.85],"nice":false,"zero":false},
      "axis":{"values":[-5,-3.75,-2.5,-1.25,0,1.25,2.5,3.75,5,6.25,7.5],
       "labelExpr":"indexof([-5,-2.5,0,2.5,5,7.5],datum.value)>=0 ? replace(format(datum.value,'.1f'),'\u2212','-') : ''",
       "gridWidth":{"condition":{"test":"indexof([-5,-2.5,0,2.5,5,7.5],datum.value)<0","value":0.4},"value":0.9},
       "tickOpacity":{"condition":{"test":"indexof([-5,-2.5,0,2.5,5,7.5],datum.value)<0","value":0},"value":1}}},
     "y":{"field":"PC2","type":"quantitative","title":"PC2 (14.37%)","scale":{"domain":[-4.37,4.4],"nice":false,"zero":false},
      "axis":{"values":[-4,-3,-2,-1,0,1,2,3,4],
       "labelExpr":"datum.value % 2 === 0 ? datum.value : ''",
       "gridWidth":{"condition":{"test":"datum.value % 2 !== 0","value":0.4},"value":0.9},
       "tickOpacity":{"condition":{"test":"datum.value % 2 !== 0","value":0},"value":1}}}
    }},
   {"data":{"name":"arrows"},
    "mark":{"type":"rule","color":"#2C6E9E","strokeWidth":1.1},
    "encoding":{
     "x":{"field":"PC1","type":"quantitative"},"y":{"field":"PC2","type":"quantitative"},
     "x2":{"datum":0},"y2":{"datum":0}
    }},
   {"data":{"name":"arrows"},
    "transform":[{"calculate":"atan2(13.46*datum.PC1, 18.02*datum.PC2)*180/PI","as":"heading"}],
    "mark":{"type":"point","shape":"triangle","filled":true,"size":16,"color":"#2C6E9E","opacity":1},
    "encoding":{
     "x":{"field":"PC1","type":"quantitative"},"y":{"field":"PC2","type":"quantitative"},
     "angle":{"field":"heading","type":"quantitative","scale":null}
    }}
  ]
 }
]
}
